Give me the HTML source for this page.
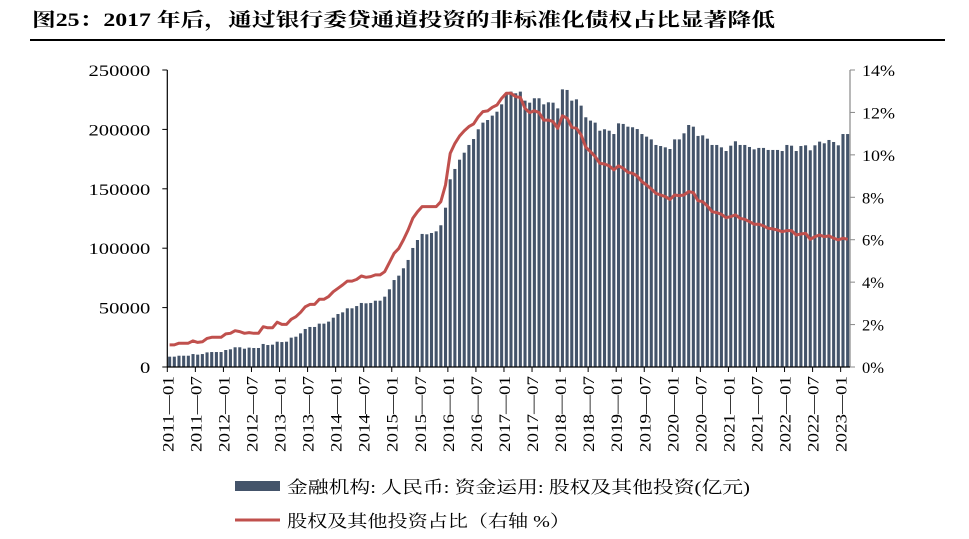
<!DOCTYPE html>
<html><head><meta charset="utf-8"><style>
body{margin:0;background:#fff;}
svg{display:block;font-family:"Liberation Serif","Noto Serif CJK SC",serif;}
</style></head><body>
<svg id="c" width="969" height="539" viewBox="0 0 969 539" xmlns="http://www.w3.org/2000/svg">
<text x="32" y="26" font-size="19" font-weight="bold" fill="#000" textLength="743" lengthAdjust="spacingAndGlyphs">图25：2017 年后，通过银行委贷通道投资的非标准化债权占比显著降低</text>
<line x1="30" y1="40" x2="945" y2="40" stroke="#000" stroke-width="2"/>
<g id="bars"></g>
<g id="axes"></g>
<path id="ln" fill="none" stroke="#c0504d" stroke-width="3" stroke-linejoin="round"/>
<g>
<rect x="235" y="481" width="45" height="10" fill="#44546a"/>
<text x="287" y="493" font-size="17" textLength="463" lengthAdjust="spacingAndGlyphs">金融机构: 人民币: 资金运用: 股权及其他投资(亿元)</text>
<line x1="235" y1="520" x2="280" y2="520" stroke="#c0504d" stroke-width="3"/>
<text x="287" y="527" font-size="17" textLength="283" lengthAdjust="spacingAndGlyphs">股权及其他投资占比（右轴 %）</text>
</g>
</svg>
<script>
const barValues=[8700,8700,9500,9500,9500,10900,10400,10900,12300,12600,12600,12600,14300,14900,16600,16600,15400,16300,16000,16000,19400,18500,18800,21300,21000,21300,24700,25500,28300,32000,33700,33700,36500,36500,38200,41500,44600,46000,49400,49400,51300,53900,53600,53900,55800,55800,59200,65400,73200,76900,83100,90100,100200,106900,112000,111700,112800,114200,119300,134100,158000,166700,174500,180400,186900,191900,200100,205700,207900,211600,214900,221100,
230400,231800,230400,231800,224200,222500,226200,226200,221100,222800,222500,217700,233700,233200,224200,225300,220000,210200,207400,205700,198900,200100,198900,196100,205100,204600,202300,201800,200300,196100,193900,191600,186900,186000,184900,183500,191600,191600,196700,203700,202300,194500,195000,192200,186900,186900,184900,181800,186300,190000,186900,186900,185200,183200,184400,184400,182700,182700,182700,181800,186900,186300,181800,186000,186600,182400,186600,189700,188300,191100,189400,186600,196100,196100];
const shareValues=[1.04,1.04,1.12,1.12,1.12,1.23,1.16,1.19,1.35,1.40,1.40,1.40,1.56,1.59,1.71,1.67,1.59,1.62,1.59,1.59,1.90,1.85,1.85,2.11,2.01,2.01,2.25,2.37,2.58,2.84,2.95,2.95,3.19,3.19,3.32,3.55,3.71,3.87,4.05,4.05,4.13,4.29,4.23,4.26,4.34,4.34,4.49,4.92,5.36,5.59,5.99,6.46,7.01,7.32,7.56,7.56,7.56,7.56,7.79,8.58,10.07,10.54,10.89,11.13,11.33,11.46,11.80,12.04,12.07,12.24,12.35,
12.66,12.90,12.90,12.74,12.71,12.19,11.99,12.08,11.99,11.64,11.64,11.57,11.25,11.84,11.73,11.30,11.25,10.94,10.36,10.15,9.92,9.60,9.57,9.48,9.29,9.48,9.37,9.18,9.13,9.00,8.74,8.58,8.39,8.19,8.11,8.03,7.90,8.11,8.08,8.11,8.27,8.22,7.84,7.79,7.59,7.32,7.28,7.20,7.04,7.09,7.17,7.01,6.96,6.85,6.73,6.73,6.65,6.54,6.51,6.46,6.38,6.43,6.43,6.22,6.27,6.30,6.02,6.14,6.22,6.14,6.18,6.07,5.99,6.07,6.02];
const leftTicks=[0,50000,100000,150000,200000,250000];
const rightTicks=[0,2,4,6,8,10,12,14];
const startYear=2011;
const NS="http://www.w3.org/2000/svg";
const X0=167.3,X1=850,Y0=367,Y1=70;
const n=barValues.length, bw=(X1-X0)/n;
const xb=i=>X0+bw*i;
const yL=v=>Y0-(v/250000)*(Y0-Y1);
const yR=v=>Y0-(v/14)*(Y0-Y1);
function mk(t,a,p){const e=document.createElementNS(NS,t);for(const k in a)e.setAttribute(k,a[k]);p.appendChild(e);return e;}
const gb=document.getElementById('bars');
barValues.forEach((v,i)=>{
 const r=mk('rect',{x:xb(i)+0.8,y:yL(v),width:bw-1.6,height:Y0-yL(v),fill:'#44546a'},gb);
 
 
});
document.getElementById('ln').setAttribute('d',shareValues.map((v,i)=>(i?'L':'M')+(xb(i)+bw/2).toFixed(1)+','+yR(v).toFixed(1)).join(''));
const ga=document.getElementById('axes');
mk('line',{x1:X0,y1:Y1,x2:X0,y2:Y0,stroke:'#000','stroke-width':1.2},ga);
mk('line',{x1:X1,y1:Y1,x2:X1,y2:Y0,stroke:'#888','stroke-width':1.2},ga);
mk('line',{x1:X0,y1:Y0,x2:X1,y2:Y0,stroke:'#000','stroke-width':1.2},ga);
leftTicks.forEach(v=>{
 mk('line',{x1:X0-5,y1:yL(v),x2:X0,y2:yL(v),stroke:'#000'},ga);
 const s=String(v);
 const t=mk('text',{x:X0-17,y:yL(v)+6,'font-size':16,'text-anchor':'end',textLength:s.length*10.3,lengthAdjust:'spacingAndGlyphs'},ga);t.textContent=s;
 
 
});
rightTicks.forEach(v=>{
 mk('line',{x1:X1,y1:yR(v),x2:X1+5,y2:yR(v),stroke:'#888'},ga);
 const s=v+'%';
 const t=mk('text',{x:X1+12,y:yR(v)+6,'font-size':16,textLength:s.length*11,lengthAdjust:'spacingAndGlyphs'},ga);t.textContent=s;
 
 
});
for(let i=0;i<n;i+=6){
 const x=xb(i);
 mk('line',{x1:x,y1:Y0,x2:x,y2:Y0+5,stroke:'#000'},ga);
 const lab=(startYear+Math.floor(i/12))+'\u2014'+(i%12?'07':'01');
 const t=mk('text',{x:0,y:0,'font-size':16,'text-anchor':'end',textLength:76,lengthAdjust:'spacingAndGlyphs',transform:`translate(${x+6},376) rotate(-90)`},ga);t.textContent=lab;
 
 
}
</script>
</body></html>
